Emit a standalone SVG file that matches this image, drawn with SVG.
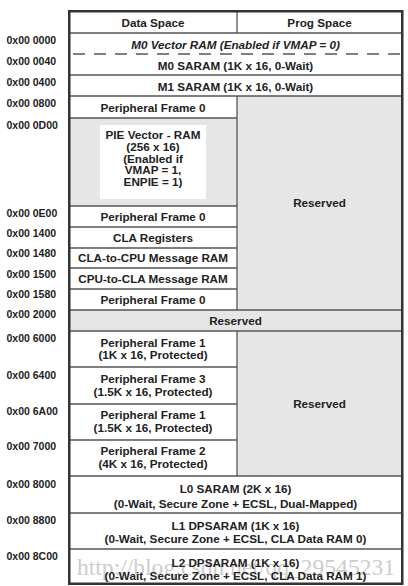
<svg xmlns="http://www.w3.org/2000/svg" width="408" height="586" viewBox="0 0 408 586">
<style>
text{font-family:"Liberation Sans",Arial,sans-serif;font-weight:bold;fill:#222}
.t{font-size:11.7px;text-anchor:middle}
.i{font-style:italic}
.a{font-size:10.5px;text-anchor:start}
.g{fill:#e6e6e6;stroke:none}
.ln{stroke:#555;stroke-width:1.3;fill:none}
.wm{font-family:"Liberation Serif","Times New Roman",serif;font-weight:normal;font-size:23px;fill:#b8b8b8;opacity:0.7}
</style>
<rect x="0" y="0" width="408" height="586" fill="#fff"/>
<g id="backgrounds">
<rect class="g" x="237" y="96" width="165" height="214"/>
<rect class="g" x="69" y="118" width="168" height="88"/>
<rect x="100" y="125" width="106" height="74" fill="#fff"/>
<rect class="g" x="69" y="310" width="333" height="21"/>
<rect class="g" x="237" y="331" width="165" height="145"/>
</g>
<g id="grid-lines">
<line class="ln" x1="69" y1="33" x2="402" y2="33"/>
<line class="ln" x1="69" y1="54" x2="402" y2="54" stroke-dasharray="12 9" stroke-dashoffset="-4"/>
<line class="ln" x1="69" y1="75" x2="402" y2="75"/>
<line class="ln" x1="69" y1="96" x2="402" y2="96"/>
<line class="ln" x1="69" y1="118" x2="237" y2="118"/>
<line class="ln" x1="69" y1="206" x2="237" y2="206"/>
<line class="ln" x1="69" y1="227" x2="237" y2="227"/>
<line class="ln" x1="69" y1="248" x2="237" y2="248"/>
<line class="ln" x1="69" y1="268" x2="237" y2="268"/>
<line class="ln" x1="69" y1="289" x2="237" y2="289"/>
<line class="ln" x1="69" y1="310" x2="402" y2="310"/>
<line class="ln" x1="69" y1="331" x2="402" y2="331"/>
<line class="ln" x1="69" y1="367" x2="237" y2="367"/>
<line class="ln" x1="69" y1="404" x2="237" y2="404"/>
<line class="ln" x1="69" y1="440" x2="237" y2="440"/>
<line class="ln" x1="69" y1="476" x2="402" y2="476"/>
<line class="ln" x1="69" y1="513" x2="402" y2="513"/>
<line class="ln" x1="69" y1="549" x2="402" y2="549"/>
<line class="ln" x1="237" y1="11" x2="237" y2="33"/>
<line class="ln" x1="237" y1="96" x2="237" y2="310"/>
<line class="ln" x1="237" y1="331" x2="237" y2="476"/>
</g>
<rect id="frame" x="69.25" y="11.25" width="333" height="572.5" fill="none" stroke="#333" stroke-width="2.5"/>
<text class="wm" x="77" y="575" textLength="318" lengthAdjust="spacingAndGlyphs">http://blog.csdn.net/qq_29545231</text>
<g id="header">
<text class="t" x="153" y="27">Data Space</text>
<text class="t" x="319.5" y="27">Prog Space</text>
</g>
<g id="m0vector"><text class="t i" x="235.5" y="49">M0 Vector RAM (Enabled if VMAP = 0)</text></g>
<g id="m0saram"><text class="t" x="235.5" y="69.5">M0 SARAM (1K x 16, 0-Wait)</text></g>
<g id="m1saram"><text class="t" x="235.5" y="90.5">M1 SARAM (1K x 16, 0-Wait)</text></g>
<g id="pf0a"><text class="t" x="153" y="111.5">Peripheral Frame 0</text></g>
<g id="pievector">
<text class="t" x="153" y="139.2">PIE Vector - RAM</text>
<text class="t" x="153" y="150.9">(256 x 16)</text>
<text class="t" x="153" y="162.5">(Enabled if</text>
<text class="t" x="153" y="174.2">VMAP = 1,</text>
<text class="t" x="153" y="185.9">ENPIE = 1)</text>
</g>
<g id="reserved1"><text class="t" x="319.5" y="207.3">Reserved</text></g>
<g id="pf0b"><text class="t" x="153" y="221">Peripheral Frame 0</text></g>
<g id="clareg"><text class="t" x="153" y="241.5">CLA Registers</text></g>
<g id="cla2cpu"><text class="t" x="153" y="262.3">CLA-to-CPU Message RAM</text></g>
<g id="cpu2cla"><text class="t" x="153" y="283">CPU-to-CLA Message RAM</text></g>
<g id="pf0c"><text class="t" x="153" y="303.5">Peripheral Frame 0</text></g>
<g id="reserved2"><text class="t" x="235.5" y="325.3">Reserved</text></g>
<g id="pf1a">
<text class="t" x="153" y="347">Peripheral Frame 1</text>
<text class="t" x="153" y="359.3">(1K x 16, Protected)</text>
</g>
<g id="pf3">
<text class="t" x="153" y="383.3">Peripheral Frame 3</text>
<text class="t" x="153" y="396">(1.5K x 16, Protected)</text>
</g>
<g id="pf1b">
<text class="t" x="153" y="419.3">Peripheral Frame 1</text>
<text class="t" x="153" y="431.5">(1.5K x 16, Protected)</text>
</g>
<g id="pf2">
<text class="t" x="153" y="455.3">Peripheral Frame 2</text>
<text class="t" x="153" y="467.5">(4K x 16, Protected)</text>
</g>
<g id="reserved3"><text class="t" x="319.5" y="408">Reserved</text></g>
<g id="l0">
<text class="t" x="235.5" y="492.5">L0 SARAM (2K x 16)</text>
<text class="t" x="235.5" y="507.5">(0-Wait, Secure Zone + ECSL, Dual-Mapped)</text>
</g>
<g id="l1">
<text class="t" x="235.5" y="530.3">L1 DPSARAM (1K x 16)</text>
<text class="t" x="235.5" y="543">(0-Wait, Secure Zone + ECSL, CLA Data RAM 0)</text>
</g>
<g id="l2">
<text class="t" x="235.5" y="567">L2 DPSARAM (1K x 16)</text>
<text class="t" x="235.5" y="579.6">(0-Wait, Secure Zone + ECSL, CLA Data RAM 1)</text>
</g>
<g id="addresses">
<text class="a" x="6.5" y="44">0x00 0000</text>
<text class="a" x="6.5" y="65">0x00 0040</text>
<text class="a" x="6.5" y="86">0x00 0400</text>
<text class="a" x="6.5" y="107">0x00 0800</text>
<text class="a" x="6.5" y="129">0x00 0D00</text>
<text class="a" x="6.5" y="217">0x00 0E00</text>
<text class="a" x="6.5" y="237">0x00 1400</text>
<text class="a" x="6.5" y="257">0x00 1480</text>
<text class="a" x="6.5" y="278">0x00 1500</text>
<text class="a" x="6.5" y="298">0x00 1580</text>
<text class="a" x="6.5" y="318">0x00 2000</text>
<text class="a" x="6.5" y="342">0x00 6000</text>
<text class="a" x="6.5" y="379">0x00 6400</text>
<text class="a" x="6.5" y="415">0x00 6A00</text>
<text class="a" x="6.5" y="450">0x00 7000</text>
<text class="a" x="6.5" y="488">0x00 8000</text>
<text class="a" x="6.5" y="524">0x00 8800</text>
<text class="a" x="6.5" y="560">0x00 8C00</text>
</g>
</svg>
